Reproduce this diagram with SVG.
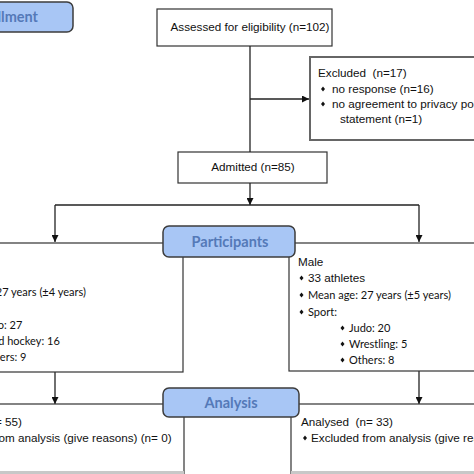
<svg xmlns="http://www.w3.org/2000/svg" width="474" height="474" viewBox="0 0 474 474">
<style>
.box{fill:#fff;stroke:#333;stroke-width:1.2}
.hdr{fill:#a8c6f5;stroke:#3c3c3c;stroke-width:1.5}
.ht{font-family:Lato,"Open Sans",sans-serif;font-weight:bold;font-size:14.5px;fill:#5479b8;text-anchor:middle}
.t{font-family:"Liberation Sans",Arial,sans-serif;font-size:11.7px;fill:#111;white-space:pre}
.c{font-family:Lato,"Open Sans",sans-serif;font-size:11px;fill:#111}
.ln{stroke:#222;stroke-width:1.3;fill:none}
</style>
<defs>
<marker id="ah" viewBox="0 0 10 10" refX="10" refY="5" markerWidth="7" markerHeight="7" markerUnits="userSpaceOnUse" orient="auto">
<path d="M0,0 L10,5 L0,10 z" fill="#111"/>
</marker>
<path id="b" d="M0,-2.6 L2,0 L0,2.6 L-2,0 z" fill="#111"/>
</defs>
<g id="enrollment">
<rect class="hdr" x="-60" y="2" width="133" height="30" rx="6"/>
<text class="ht" x="38" y="22" style="text-anchor:end">Enrollment</text>
</g>
<g id="assessed">
<rect class="box" x="157" y="9" width="175" height="37"/>
<text class="t" x="250" y="31" text-anchor="middle">Assessed for eligibility (n=102)</text>
</g>
<g id="excluded">
<rect x="310" y="57" width="175" height="83" fill="#fff" stroke="#666" stroke-width="2"/>
<text class="t" x="318" y="77">Excluded  (n=17)</text>
<use href="#b" x="323" y="89"/>
<text class="t" x="332" y="93">no response (n=16)</text>
<use href="#b" x="323" y="104"/>
<text class="t" x="332" y="108">no agreement to privacy policy</text>
<text class="t" x="340" y="123">statement (n=1)</text>
</g>
<g id="admitted">
<rect class="box" x="178" y="152" width="149" height="31"/>
<text class="t" x="253" y="171" text-anchor="middle">Admitted (n=85)</text>
</g>
<g id="connectors">
<line class="ln" x1="250" y1="46" x2="250" y2="152"/>
<line class="ln" x1="250" y1="99" x2="309" y2="99" marker-end="url(#ah)"/>
<line class="ln" x1="250" y1="183" x2="250" y2="205" marker-end="url(#ah)"/>
<line class="ln" x1="55" y1="205" x2="419" y2="205"/>
<line class="ln" x1="55" y1="205" x2="55" y2="242" marker-end="url(#ah)"/>
<line class="ln" x1="419" y1="205" x2="419" y2="242" marker-end="url(#ah)"/>
<line class="ln" x1="55" y1="372" x2="55" y2="404" marker-end="url(#ah)"/>
<line class="ln" x1="419" y1="371" x2="419" y2="404" marker-end="url(#ah)"/>
</g>
<g id="female">
<rect class="box" x="-82" y="243" width="265" height="129"/>
<text class="c" x="-57" y="296">Mean age: 27 years (±4 years)</text>
<text class="c" x="-19" y="329">Judo: 27</text>
<text class="c" x="-19" y="345">Field hockey: 16</text>
<text class="c" x="-19" y="361">Others: 9</text>
</g>
<g id="male">
<rect class="box" x="289" y="243" width="200" height="128"/>
<text class="t" x="298" y="266">Male</text>
<use href="#b" x="301.5" y="278"/>
<text class="t" x="308" y="282">33 athletes</text>
<use href="#b" x="301.5" y="295"/>
<text class="c" x="308" y="299">Mean age: 27 years (±5 years)</text>
<use href="#b" x="301.5" y="312"/>
<text class="c" x="308" y="316">Sport:</text>
<use href="#b" x="342.5" y="328"/>
<text class="c" x="349" y="332">Judo: 20</text>
<use href="#b" x="342.5" y="344"/>
<text class="c" x="349" y="348">Wrestling: 5</text>
<use href="#b" x="342.5" y="360"/>
<text class="c" x="349" y="364">Others: 8</text>
</g>
<g id="participants">
<rect class="hdr" x="163" y="226" width="132" height="31" rx="6"/>
<text class="ht" x="230" y="247">Participants</text>
</g>
<g id="analysed-left">
<rect class="box" x="-82" y="404" width="266" height="80"/>
<text class="t" x="-70" y="426">Analysed  (n= 55)</text>
<text class="t" x="-60" y="442">Excluded from analysis (give reasons) (n= 0)</text>
</g>
<g id="analysed-right">
<rect class="box" x="291" y="404" width="200" height="80"/>
<text class="t" x="301" y="426">Analysed  (n= 33)</text>
<use href="#b" x="305" y="438"/>
<text class="t" x="311" y="442">Excluded from analysis (give reasons) (n= 0)</text>
</g>
<rect x="0" y="471" width="184" height="3" fill="#c8c8c8"/>
<rect x="291" y="471" width="183" height="3" fill="#c8c8c8"/>
<g id="analysis">
<rect class="hdr" x="163" y="388" width="136" height="29" rx="6"/>
<text class="ht" x="231" y="408">Analysis</text>
</g>
</svg>
